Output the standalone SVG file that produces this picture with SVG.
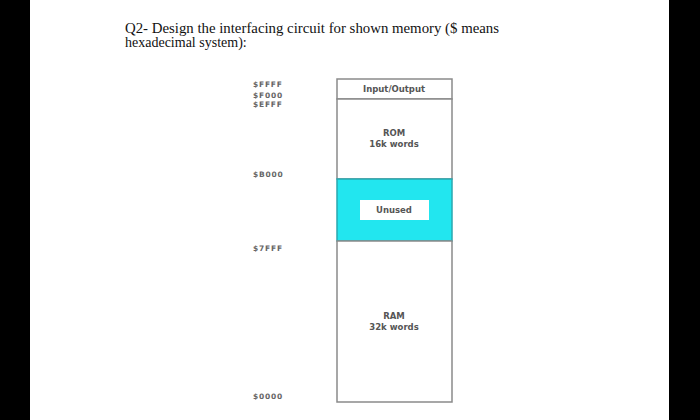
<svg xmlns="http://www.w3.org/2000/svg" width="700" height="420" viewBox="0 0 700 420">
<style>
.title{font-family:"Liberation Serif",serif;font-size:14px;fill:#111}
.addr{font-family:"DejaVu Sans",sans-serif;font-size:7.5px;font-weight:bold;fill:#666;letter-spacing:0.8px}
.lbl{font-family:"DejaVu Sans",sans-serif;font-size:8.5px;font-weight:bold;fill:#555;text-anchor:middle}
.box{fill:#fff;stroke:#8a8a8a;stroke-width:1.5}
</style>
<rect x="0" y="0" width="700" height="420" fill="#fff"/>
<rect x="0" y="0" width="30" height="420" fill="#000"/>
<rect x="669" y="0" width="31" height="420" fill="#000"/>
<text class="title" x="125" y="33" textLength="374" lengthAdjust="spacingAndGlyphs">Q2- Design the interfacing circuit for shown  memory ($ means</text>
<text class="title" x="125" y="47">hexadecimal system):</text>
<g id="addresses">
<text class="addr" x="253" y="87">$FFFF</text>
<text class="addr" x="253" y="97.5">$F000</text>
<text class="addr" x="253" y="106.5">$EFFF</text>
<text class="addr" x="253" y="177">$B000</text>
<text class="addr" x="253" y="251">$7FFF</text>
<text class="addr" x="253" y="399">$0000</text>
</g>
<g id="io">
<rect class="box" x="337" y="79" width="115" height="20"/>
<text class="lbl" x="394" y="92">Input/Output</text>
</g>
<g id="rom">
<rect class="box" x="337" y="99" width="115" height="80"/>
<text class="lbl" x="394" y="136">ROM</text>
<text class="lbl" x="394" y="147">16k words</text>
</g>
<g id="unused">
<rect x="337" y="179" width="115" height="62" fill="#22e6ef" stroke="#2aa8b0" stroke-width="1.5"/>
<rect x="360" y="200" width="69" height="20" fill="#fff"/>
<text class="lbl" x="394" y="213">Unused</text>
</g>
<g id="ram">
<rect class="box" x="337" y="241" width="115" height="161"/>
<text class="lbl" x="394" y="319">RAM</text>
<text class="lbl" x="394" y="330">32k words</text>
</g>
</svg>
